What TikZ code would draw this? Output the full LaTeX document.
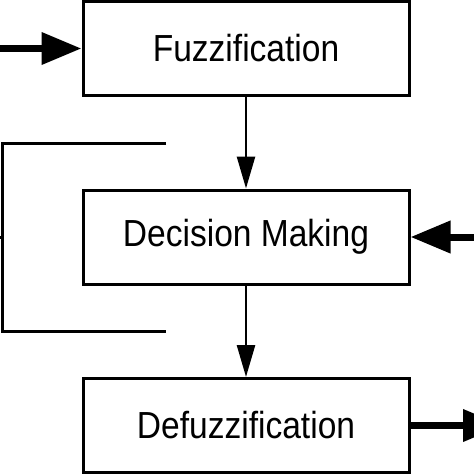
\documentclass[tikz,border=0pt]{standalone}
\usepackage{fontspec}
\setmainfont{Liberation Sans}[FakeStretch=0.89]
\usepackage{tikz}
\usetikzlibrary{positioning,arrows.meta}
\tikzset{block node/.style={rectangle,draw,line width=3pt,minimum width=326pt,minimum height=94pt,inner sep=0pt,font=\fontsize{37.7}{40}\selectfont},
thin arrow/.style={line width=2.6pt,-{Triangle[length=32pt,width=18pt]}},
thick arrow/.style={line width=7pt,-{Triangle[length=40pt,width=31pt]}}}

\begin{document}
\begin{tikzpicture}[x=1pt,y=-1pt]
            \useasboundingbox (0,0) rectangle (474,474);
            \node[block node] (F) at (246,48.5) {Fuzzification};
            \node[block node] (D) [below = 91.5pt of F] {Decision Making};
            \node[block node] (E) [below = 91.5pt of D] {Defuzzification};
            \coordinate (in) at (0,48.5);
            \coordinate (rule) at (476,237);
            \coordinate (out) at (503,425.5);
            
            \draw[thick arrow] (in) -- (F);
            \draw[thin arrow] (F) -- (D);
            \draw[thin arrow] (D) -- (E);
            \draw[thick arrow] (rule) -- (D);
            \draw[thick arrow] (E) -- (out);
            
            \draw[line width=3pt] (166,143) -- (2.5,143) -- (2.5,331) -- (166,331);
            \draw[line width=3pt] (2.5,237) -- (-2,237);
        \end{tikzpicture}
\end{document}
